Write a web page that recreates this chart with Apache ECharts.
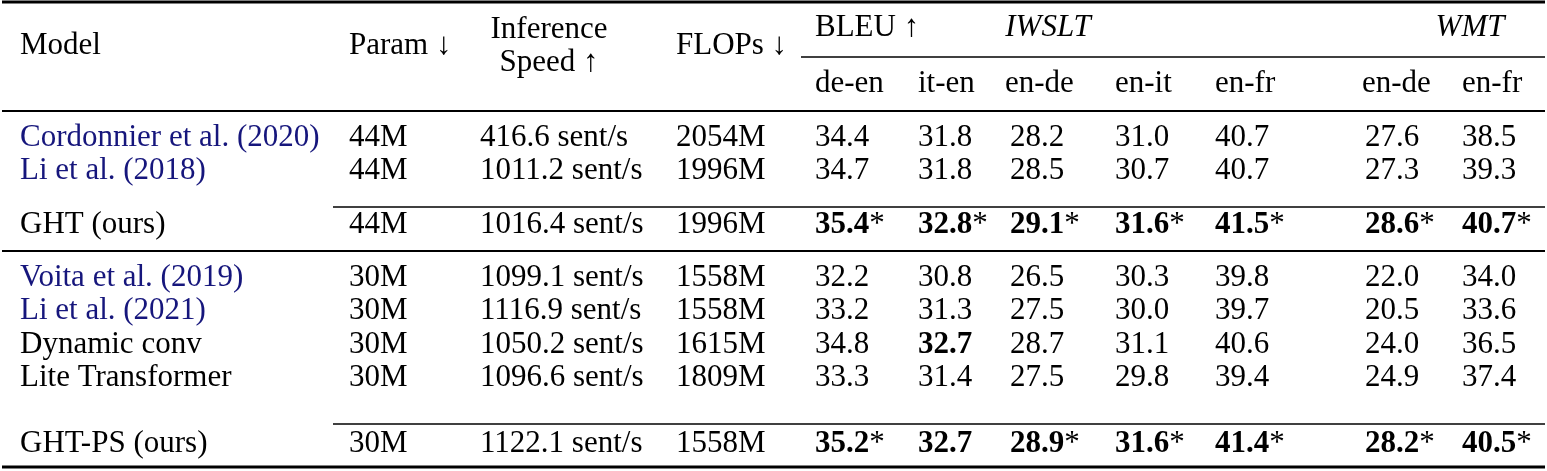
<!DOCTYPE html>
<html>
<head>
<meta charset="utf-8">
<script src="https://cdn.jsdelivr.net/npm/echarts@6/dist/echarts.min.js"></script>
<style>
html,body{margin:0;padding:0;background:#fff;}
#main{width:1547px;height:471px;}
</style>
</head>
<body>
<div id="main"></div>
<script>
// ---------- DATA ----------
var models = ['Cordonnier et al. (2020)', 'Li et al. (2018)', 'GHT (ours)', 'Voita et al. (2019)', 'Li et al. (2021)', 'Dynamic conv', 'Lite Transformer', 'GHT-PS (ours)'];
var modelCited = [true, true, false, true, true, false, false, false];
var params = ['44M', '44M', '44M', '30M', '30M', '30M', '30M', '30M'];
var speeds = [416.6, 1011.2, 1016.4, 1099.1, 1116.9, 1050.2, 1096.6, 1122.1];
var flops = [2054, 1996, 1996, 1558, 1558, 1615, 1809, 1558];
var bleuCols = ['de-en', 'it-en', 'en-de', 'en-it', 'en-fr', 'en-de', 'en-fr'];
var iwsltDeEn = [34.4, 34.7, 35.4, 32.2, 33.2, 34.8, 33.3, 35.2];
var iwsltItEn = [31.8, 31.8, 32.8, 30.8, 31.3, 32.7, 31.4, 32.7];
var iwsltEnDe = [28.2, 28.5, 29.1, 26.5, 27.5, 28.7, 27.5, 28.9];
var iwsltEnIt = [31.0, 30.7, 31.6, 30.3, 30.0, 31.1, 29.8, 31.6];
var iwsltEnFr = [40.7, 40.7, 41.5, 39.8, 39.7, 40.6, 39.4, 41.4];
var wmtEnDe = [27.6, 27.3, 28.6, 22.0, 20.5, 24.0, 24.9, 28.2];
var wmtEnFr = [38.5, 39.3, 40.7, 34.0, 33.6, 36.5, 37.4, 40.5];
// bold / significance marks per row (index = column of BLEU table)
var boldMarks = [
  [0,0,0,0,0,0,0],
  [0,0,0,0,0,0,0],
  [1,1,1,1,1,1,1],
  [0,0,0,0,0,0,0],
  [0,0,0,0,0,0,0],
  [0,1,0,0,0,0,0],
  [0,0,0,0,0,0,0],
  [1,1,1,1,1,1,1]
];
var starMarks = [
  [0,0,0,0,0,0,0],
  [0,0,0,0,0,0,0],
  [1,1,1,1,1,1,1],
  [0,0,0,0,0,0,0],
  [0,0,0,0,0,0,0],
  [0,0,0,0,0,0,0],
  [0,0,0,0,0,0,0],
  [1,0,1,1,1,1,1]
];

// ---------- LAYOUT (table units on the axes) ----------
var W = 1547, H = 471;
var rowY = [138, 171, 225, 278, 311, 345, 378, 444];
var colModelX = 20, colParamX = 349, colSpeedX = 480, colSpeedHeadX = 549, colFlopsX = 676;
var bleuHeadX = [815, 918, 1005, 1115, 1215, 1362, 1462];
var bleuValX = [815, 918, 1010, 1115, 1215, 1365, 1462];
var headY = 46, headY1 = 30, headY2 = 63, subHeadY = 84, groupY = 28;
var FS = 31, FF = '"Liberation Serif", "Times New Roman", serif';
var citeColor = '#16167c';
var rules = [
  // [x1, x2, y, lineWidth]
  [2, 1545, 2, 3],
  [801, 1545, 57, 1.3],
  [2, 1545, 111, 2],
  [333, 1545, 207, 1.3],
  [2, 1545, 251, 2],
  [333, 1545, 424, 1.3],
  [2, 1545, 467, 3]
];

// ---------- BUILD CELLS ----------
var bleuData = [iwsltDeEn, iwsltItEn, iwsltEnDe, iwsltEnIt, iwsltEnFr, wmtEnDe, wmtEnFr];
var cells = []; // [x, y, text, styleKey, color, align]
cells.push([colModelX, headY, 'Model', 'n', '#000', 'left']);
cells.push([colParamX, headY, 'Param ↓', 'n', '#000', 'left']);
cells.push([colSpeedHeadX, headY1, 'Inference', 'n', '#000', 'center']);
cells.push([colSpeedHeadX, headY2, 'Speed ↑', 'n', '#000', 'center']);
cells.push([colFlopsX, headY, 'FLOPs ↓', 'n', '#000', 'left']);
cells.push([815, groupY, 'BLEU ↑', 'n', '#000', 'left']);
cells.push([1048, groupY, 'IWSLT', 'i', '#000', 'center']);
cells.push([1470, groupY, 'WMT', 'i', '#000', 'center']);
bleuCols.forEach(function (c, j) { cells.push([bleuHeadX[j], subHeadY, c, 'n', '#000', 'left']); });
models.forEach(function (m, i) {
  var y = rowY[i];
  cells.push([colModelX, y, m, modelCited[i] ? 'cite' : 'n', modelCited[i] ? citeColor : '#000', 'left']);
  cells.push([colParamX, y, params[i], 'n', '#000', 'left']);
  cells.push([colSpeedX, y, speeds[i].toFixed(1) + ' sent/s', 'n', '#000', 'left']);
  cells.push([colFlopsX, y, flops[i] + 'M', 'n', '#000', 'left']);
  bleuData.forEach(function (arr, j) {
    var v = arr[i].toFixed(1);
    var txt = boldMarks[i][j] ? '{b|' + v + '}' : '{n|' + v + '}';
    if (starMarks[i][j]) txt += '{n|*}';
    cells.push([bleuValX[j], y, txt, 'rich', '#000', 'left']);
  });
});

var chart = echarts.init(document.getElementById('main'), null, { renderer: 'canvas' });
chart.setOption({
  backgroundColor: '#fff',
  animation: false,
  grid: { left: 0, right: 0, top: 0, bottom: 0 },
  xAxis: { type: 'value', min: 0, max: W, show: false },
  yAxis: { type: 'value', min: 0, max: H, inverse: true, show: false },
  series: [
    {
      type: 'custom',
      data: rules,
      renderItem: function (params, api) {
        var p1 = api.coord([api.value(0), api.value(2)]);
        var p2 = api.coord([api.value(1), api.value(2)]);
        return {
          type: 'line',
          shape: { x1: p1[0], y1: p1[1], x2: p2[0], y2: p2[1] },
          style: { stroke: '#000', lineWidth: api.value(3) }
        };
      }
    },
    {
      type: 'custom',
      data: cells,
      renderItem: function (params, api) {
        var d = cells[params.dataIndex];
        var p = api.coord([d[0], d[1]]);
        var font = FS + 'px ' + FF;
        if (d[3] === 'i') font = 'italic ' + font;
        return {
          type: 'text',
          x: p[0],
          y: p[1],
          style: {
            text: d[2],
            fill: d[4],
            font: font,
            textAlign: d[5],
            textVerticalAlign: 'middle',
            rich: {
              n: { font: FS + 'px ' + FF, fill: '#000' },
              b: { font: 'bold ' + FS + 'px ' + FF, fill: '#000' }
            }
          }
        };
      }
    }
  ]
});
</script>
</body>
</html>
